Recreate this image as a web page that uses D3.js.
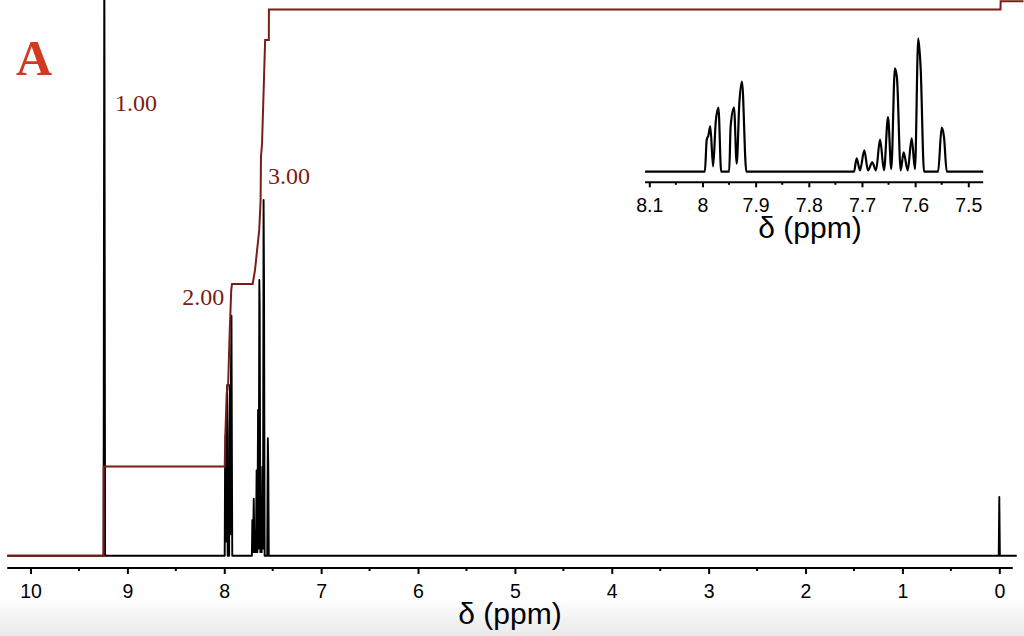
<!DOCTYPE html>
<html>
<head>
  <meta charset="UTF-8">
  <title>1H NMR - A</title>
  <script src="https://cdn.jsdelivr.net/npm/d3@7"></script>
  <style>
    html, body { margin: 0; padding: 0; background: #fff; }
    svg { display: block; }
    .tick text { font-family: "Liberation Sans", Arial, sans-serif; }
  </style>
</head>
<body>
  <svg id="chart" width="1024" height="636"></svg>
  <script>
  //-----------------------------------------
  // data (ppm, relative intensity; tallest aromatic line = 1)
  const mainTicks = [10, 9, 8, 7, 6, 5, 4, 3, 2, 1, 0];
  const mainMinorTicks = [9.5, 8.5, 7.5, 6.5, 5.5, 4.5, 3.5, 2.5, 1.5, 0.5];
  const insetTicks = [8.1, 8.0, 7.9, 7.8, 7.7, 7.6, 7.5];
  const insetMinorTicks = [8.05, 7.95, 7.85, 7.75, 7.65, 7.55];

  const aldehydeTrace = [[9.246, 0], [9.238, 1.75], [9.230, 0]];

  const aromaticTrace = [
    [7.9955, 0], [7.992, 0.24], [7.989, 0.27], [7.9853, 0.34], [7.980, 0.04],
    [7.975, 0.375], [7.970, 0.48], [7.9648, 0],
    [7.9498, 0], [7.947, 0.34], [7.9407, 0.48], [7.9356, 0.06],
    [7.9307, 0.51], [7.9257, 0.675], [7.9175, 0],
    [7.715, 0], [7.710, 0.10], [7.7037, 0.01], [7.6956, 0.16], [7.6887, 0.01],
    [7.6806, 0.07], [7.6736, 0.01], [7.666, 0.24], [7.6586, 0.01],
    [7.651, 0.41], [7.6449, 0.02], [7.638, 0.775], [7.6341, 0.70],
    [7.6272, 0.01], [7.6216, 0.145], [7.614, 0.01], [7.6065, 0.25],
    [7.6003, 0.02], [7.5941, 1.0], [7.5896, 0.775], [7.5832, 0],
    [7.5568, 0], [7.5501, 0.33], [7.5457, 0.26], [7.5405, 0]
  ];

  const tmsTrace = [[0.006, 0], [0.0, 0.165], [-0.006, 0]];

  // cumulative integral (ppm, proton units)
  const integralTrace = [
    [10.24, 0], [9.245, 0], [9.244, 0.99], [7.995, 0.99], [7.990, 1.30],
    [7.975, 1.80], [7.960, 1.90], [7.945, 2.45], [7.928, 2.95], [7.920, 3.02],
    [7.707, 3.02], [7.683, 3.17], [7.639, 3.62], [7.625, 3.95], [7.621, 4.43],
    [7.610, 4.58], [7.578, 5.73], [7.540, 5.73], [7.539, 6.07],
    [-0.012, 6.07], [-0.014, 6.16], [-0.25, 6.16]
  ];

  const integralLabels = ["1.00", "2.00", "3.00"];
  const panelLabel = "A";
  const axisTitle = "δ (ppm)";

  //-----------------------------------------
  const svg = d3.select("#chart");
  const red = "#7b1c17";

  // soft grey fade at the bottom edge
  const grad = svg.append("defs").append("linearGradient")
    .attr("id", "fade").attr("x1", 0).attr("x2", 0).attr("y1", 0).attr("y2", 1);
  grad.append("stop").attr("offset", "0%").attr("stop-color", "#ffffff");
  grad.append("stop").attr("offset", "100%").attr("stop-color", "#e9e9e9");
  svg.append("rect").attr("x", 0).attr("y", 598).attr("width", 1024).attr("height", 38)
    .attr("fill", "url(#fade)");

  // main scales
  const x = d3.scaleLinear().domain([10, 0]).range([30.5, 999.3]);
  const y = d3.scaleLinear().domain([0, 1]).range([555.7, 200]);
  const yInt = d3.scaleLinear().domain([0, 1]).range([555.7, 465.7]);
  const xLeft = 10.24, xRight = -0.18;

  const mainTrace = [[xLeft, 0]].concat(aldehydeTrace, aromaticTrace, tmsTrace, [[xRight, 0]]);

  const line = d3.line().x(d => x(d[0])).y(d => y(d[1]));
  svg.append("path")
    .datum(mainTrace)
    .attr("d", line)
    .attr("fill", "none")
    .attr("stroke", "#000")
    .attr("stroke-width", 1.9)
    .attr("stroke-linejoin", "round");

  const intLine = d3.line().x(d => x(d[0])).y(d => yInt(d[1]));
  svg.append("path")
    .datum(integralTrace)
    .attr("d", intLine)
    .attr("fill", "none")
    .attr("stroke", red)
    .attr("stroke-width", 2);

  // main axis
  const axisY = 568;
  svg.append("line")
    .attr("x1", x(xLeft)).attr("x2", x(xRight) - 4)
    .attr("y1", axisY).attr("y2", axisY)
    .attr("stroke", "#000").attr("stroke-width", 2);

  const gx = svg.append("g").attr("transform", "translate(0," + axisY + ")")
    .call(d3.axisBottom(x).tickValues(mainTicks).tickFormat(d3.format("d"))
      .tickSize(6).tickSizeOuter(0).tickPadding(10));
  gx.select(".domain").remove();
  gx.selectAll(".tick line").attr("stroke-width", 2);
  gx.selectAll(".tick text").attr("font-size", 19.5).attr("fill", "#000");

  svg.append("g").selectAll("line").data(mainMinorTicks).enter().append("line")
    .attr("x1", d => x(d)).attr("x2", d => x(d))
    .attr("y1", axisY).attr("y2", axisY + 3)
    .attr("stroke", "#000").attr("stroke-width", 2);

  svg.append("text")
    .attr("x", 510).attr("y", 624)
    .attr("text-anchor", "middle")
    .attr("font-family", "Liberation Sans, Arial, sans-serif")
    .attr("font-size", 30)
    .text(axisTitle);

  // integral labels
  const labelStyle = sel => sel
    .attr("font-family", "Liberation Serif, Times New Roman, serif")
    .attr("font-size", 24)
    .attr("fill", red);
  svg.append("text").call(labelStyle)
    .attr("x", x(9.127)).attr("y", 111).text(integralLabels[0]);
  svg.append("text").call(labelStyle)
    .attr("x", x(8.0)).attr("y", 305).attr("text-anchor", "end").text(integralLabels[1]);
  svg.append("text").call(labelStyle)
    .attr("x", x(7.549)).attr("y", 184).text(integralLabels[2]);

  svg.append("text")
    .attr("x", 16).attr("y", 75)
    .attr("font-family", "Liberation Serif, Times New Roman, serif")
    .attr("font-weight", "bold")
    .attr("font-size", 50)
    .attr("fill", "#d13a20")
    .text(panelLabel);

  //-----------------------------------------
  // inset: aromatic region
  const xi = d3.scaleLinear().domain([8.1, 7.5]).range([649.3, 968.3]);
  const yi = d3.scaleLinear().domain([0, 1]).range([171.7, 38.3]);
  const iLeft = 8.108, iRight = 7.472;

  const insetTrace = [[iLeft, 0]].concat(aromaticTrace, [[iRight, 0]]);
  svg.append("path")
    .datum(insetTrace)
    .attr("d", d3.line().x(d => xi(d[0])).y(d => yi(d[1])).curve(d3.curveMonotoneX))
    .attr("fill", "none")
    .attr("stroke", "#000")
    .attr("stroke-width", 2.2)
    .attr("stroke-linejoin", "round");

  const insetAxisY = 182.3;
  svg.append("line")
    .attr("x1", xi(iLeft)).attr("x2", xi(iRight))
    .attr("y1", insetAxisY).attr("y2", insetAxisY)
    .attr("stroke", "#000").attr("stroke-width", 2);

  const gi = svg.append("g").attr("transform", "translate(0," + insetAxisY + ")")
    .call(d3.axisBottom(xi).tickValues(insetTicks).tickFormat(d3.format("~g"))
      .tickSize(5).tickSizeOuter(0).tickPadding(11));
  gi.select(".domain").remove();
  gi.selectAll(".tick line").attr("stroke-width", 2);
  gi.selectAll(".tick text").attr("font-size", 19.5).attr("fill", "#000");

  svg.append("g").selectAll("line").data(insetMinorTicks).enter().append("line")
    .attr("x1", d => xi(d)).attr("x2", d => xi(d))
    .attr("y1", insetAxisY).attr("y2", insetAxisY + 2.5)
    .attr("stroke", "#000").attr("stroke-width", 2);

  svg.append("text")
    .attr("x", 810).attr("y", 238)
    .attr("text-anchor", "middle")
    .attr("font-family", "Liberation Sans, Arial, sans-serif")
    .attr("font-size", 30)
    .text(axisTitle);
  </script>
</body>
</html>
